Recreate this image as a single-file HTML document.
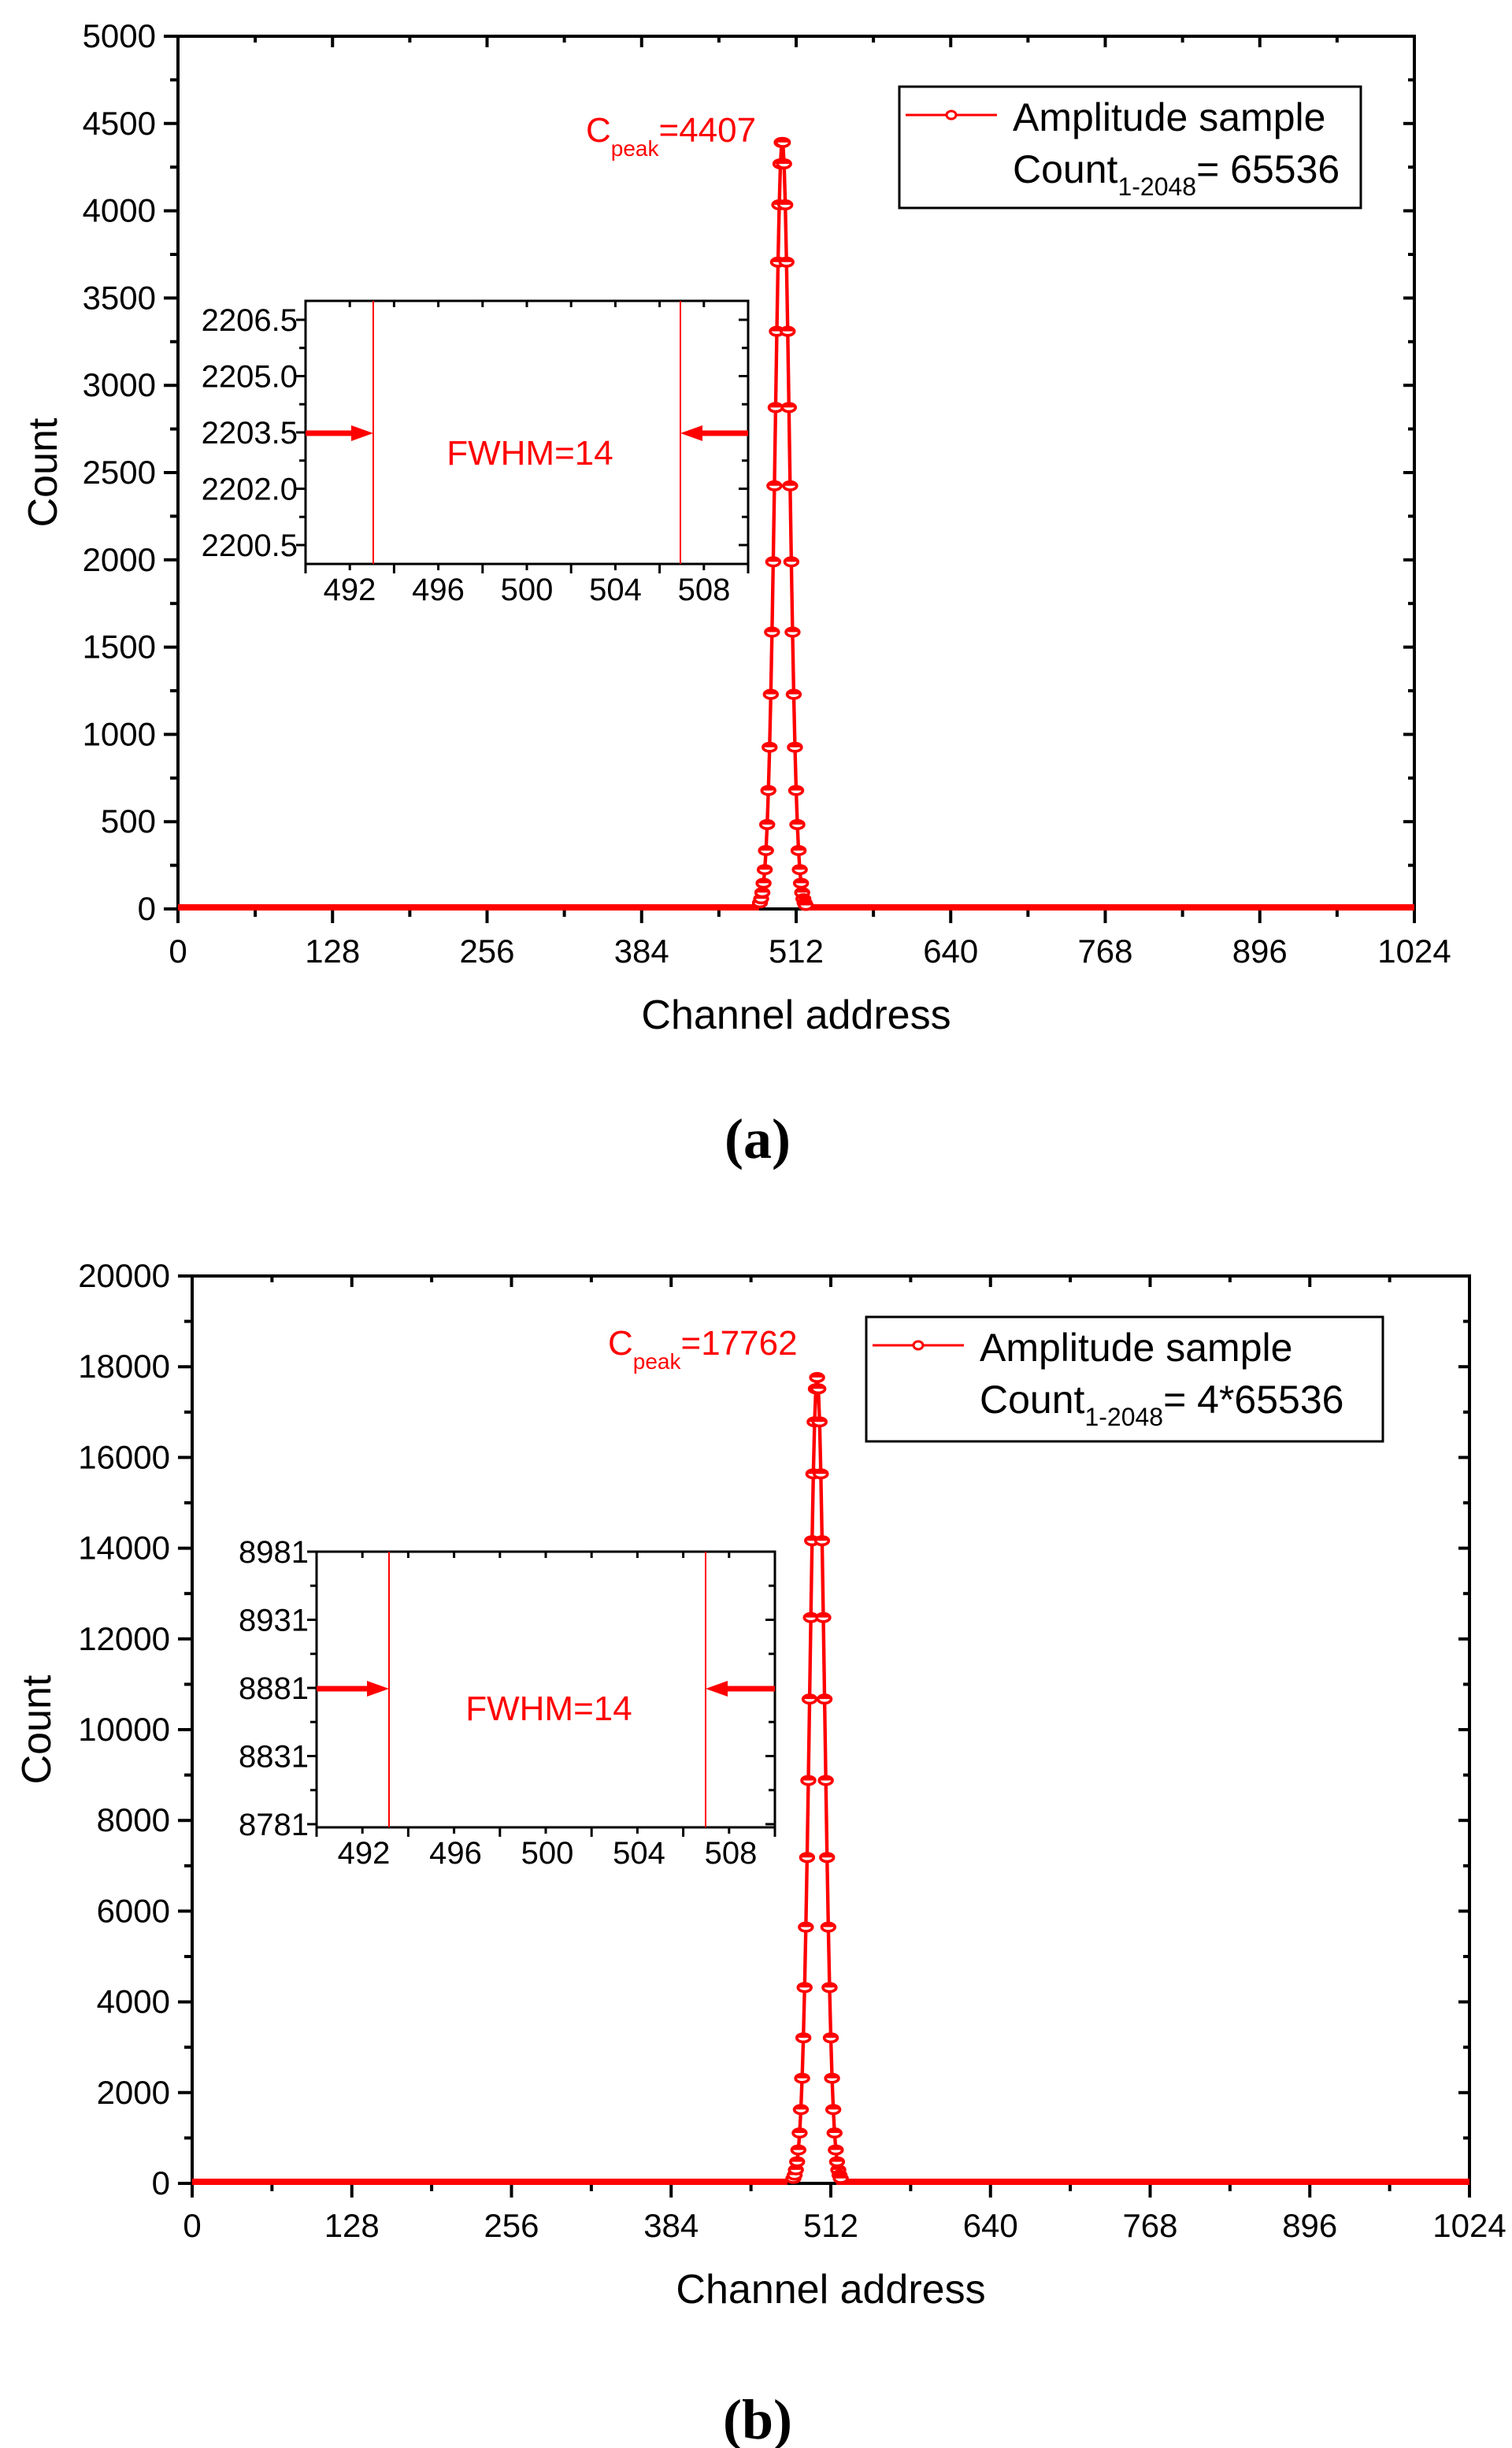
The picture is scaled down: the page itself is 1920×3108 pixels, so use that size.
<!DOCTYPE html>
<html><head><meta charset="utf-8"><style>
html,body{margin:0;padding:0;background:#fff;}
svg{display:block;font-family:"Liberation Sans",sans-serif;}
</style></head><body>
<svg id="s" width="1920" height="3108" viewBox="0 0 960 1554" xmlns="http://www.w3.org/2000/svg">
<rect width="960" height="1554" fill="#fff"/>
<text x="481" y="735" font-family="Liberation Serif,serif" font-weight="bold" font-size="36" text-anchor="middle">(a)</text>
<text x="481" y="1548" font-family="Liberation Serif,serif" font-weight="bold" font-size="36" text-anchor="middle">(b)</text>
</svg>
<script>
var s=document.getElementById('s'),NS='http://www.w3.org/2000/svg';
function el(t,a,txt){var e=document.createElementNS(NS,t);for(var k in a)e.setAttribute(k,a[k]);if(txt!=null)e.textContent=txt;s.appendChild(e);return e;}
function line(x1,y1,x2,y2,c,w){el('line',{x1:x1,y1:y1,x2:x2,y2:y2,stroke:c||'#000','stroke-width':w||2});}
function txt(x,y,t,o){var a={x:x,y:y,'font-size':20,'text-anchor':'middle'};for(var k in o)a[k]=o[k];return el('text',a,t);}
function chart(c){
 var X0=c.x0,X1=c.x1,Y0=c.y0,Y1=c.y1;
 function px(v){return X0+(X1-X0)*v/1024;}
 function py(v){return Y0-(Y0-Y1)*v/c.ymax;}
 el('rect',{x:X0,y:Y1,width:X1-X0,height:Y0-Y1,fill:'none',stroke:'#000','stroke-width':2});
 for(var i=0;i<=16;i++){var x=px(i*64),maj=i%2==0;line(x,Y0,x,Y0+(maj?9:5));line(x,Y1,x,Y1+(maj?7:4));
  if(maj)txt(x,Y0+34,String(i*64),{'font-size':21});}
 for(var i=0;i<=20;i++){var v=i*c.ymax/20,y=py(v),maj=i%2==0;line(X0,y,X0-(maj?9:5),y);line(X1,y,X1-(maj?7:4),y);
  if(maj)txt(X0-14,y+7,String(v),{'text-anchor':'end','font-size':21});}
 txt((X0+X1)/2,Y0+76,'Channel address',{'font-size':26});
 var t=txt(0,0,'Count',{'font-size':26});t.setAttribute('transform','translate('+(c.ylx)+','+((Y0+Y1)/2)+') rotate(-90)');
 line(X0,Y0-1,c.px0,Y0-1,'#f00',4);line(c.px1,Y0-1,X1,Y0-1,'#f00',4);
 var pts=[],sig=14/2.3548;
 for(var ch=482;ch<=520;ch++){var v=c.peak*Math.exp(-Math.pow(ch-c.mu,2)/(2*sig*sig));pts.push([px(ch),py(v)]);}
 el('polyline',{points:pts.map(function(p){return p.join(',')}).join(' '),fill:'none',stroke:'#f00','stroke-width':2.2});
 pts.forEach(function(p){el('ellipse',{cx:p[0],cy:p[1],rx:4.2,ry:2.6,fill:'#fff',stroke:'#f00','stroke-width':1.8});
  el('path',{d:'M'+(p[0]-4.2)+','+p[1]+' A4.2,2.6 0 0 1 '+(p[0]+4.2)+','+p[1]+' Z',fill:'#f00'});});
 var tp=el('text',{x:c.lx,y:c.ly,'font-size':22,fill:'#f00'});
 tp.innerHTML='C<tspan font-size="14" dy="9">peak</tspan><tspan dy="-9">='+c.peak+'</tspan>';
 var L=c.leg;
 el('rect',{x:L.x,y:L.y,width:L.w,height:L.h,fill:'#fff',stroke:'#000','stroke-width':1.5});
 line(L.x+4,L.y+18,L.x+62,L.y+18,'#f00',1.5);
 el('ellipse',{cx:L.x+33,cy:L.y+18,rx:3,ry:2.5,fill:'#fff',stroke:'#f00','stroke-width':1.5});
 el('text',{x:L.x+72,y:L.y+28,'font-size':25},'Amplitude sample');
 var ct=el('text',{x:L.x+72,y:L.y+61,'font-size':25});
 ct.innerHTML='Count<tspan font-size="16" dy="8">1-2048</tspan><tspan dy="-8">= '+L.cnt+'</tspan>';
 var I=c.in;
 el('rect',{x:I.x0,y:I.y1,width:I.x1-I.x0,height:I.y0-I.y1,fill:'#fff',stroke:'#000','stroke-width':1.5});
 for(var i=0;i<=10;i++){var x=I.x0+(I.x1-I.x0)*i/10;line(x,I.y0,x,I.y0+(i%2?4:6),'#000',1.5);line(x,I.y1,x,I.y1+4,'#000',1.5);}
 var xl=['492','496','500','504','508'];
 for(var i=0;i<5;i++){var x=I.xa+(I.xb-I.xa)*i/4;txt(x,I.y0+23,xl[i],{'font-size':20});}
 for(var i=0;i<I.yl.length;i++){var y=I.ya+(I.yb-I.ya)*i/(I.yl.length-1);line(I.x0,y,I.x0-6,y,'#000',1.5);line(I.x1,y,I.x1-6,y,'#000',1.5);
  txt(I.x0-5,y+7,I.yl[i],{'text-anchor':'end','font-size':20});
  if(i<I.yl.length-1){var ym=y+(I.yb-I.ya)/(I.yl.length-1)/2;line(I.x0,ym,I.x0-4,ym,'#000',1.5);line(I.x1,ym,I.x1-4,ym,'#000',1.5);}}
 line(I.v1,I.y1,I.v1,I.y0,'#f00',1);line(I.v2,I.y1,I.v2,I.y0,'#f00',1);
 line(I.x0,I.ay,I.v1-12,I.ay,'#f00',3.5);el('polygon',{points:(I.v1)+','+I.ay+' '+(I.v1-14)+','+(I.ay-5)+' '+(I.v1-14)+','+(I.ay+5),fill:'#f00'});
 line(I.x1,I.ay,I.v2+12,I.ay,'#f00',3.5);el('polygon',{points:(I.v2)+','+I.ay+' '+(I.v2+14)+','+(I.ay-5)+' '+(I.v2+14)+','+(I.ay+5),fill:'#f00'});
 txt((I.x0+I.x1)/2+2,I.ay+20,'FWHM=14',{'font-size':22,fill:'#f00'});
}
chart({x0:113,x1:898,y0:577,y1:23,ymax:5000,ylx:36,peak:4407,mu:500.5,px0:482,px1:512,lx:372,ly:90,
 leg:{x:571,y:55,w:293,h:77,cnt:'65536'},
 in:{x0:194,x1:475,y0:358,y1:191,xa:222,xb:447,ya:203,yb:346,yl:['2206.5','2205.0','2203.5','2202.0','2200.5'],v1:237,v2:432,ay:275}});
chart({x0:122,x1:933,y0:1386,y1:810,ymax:20000,ylx:32,peak:17762,mu:501,px0:500,px1:531,lx:386,ly:860,
 leg:{x:550,y:836,w:328,h:79,cnt:'4*65536'},
 in:{x0:201,x1:492,y0:1160,y1:985,xa:231,xb:464,ya:985,yb:1158,yl:['8981','8931','8881','8831','8781'],v1:247,v2:448,ay:1072}});
</script>
</body></html>
